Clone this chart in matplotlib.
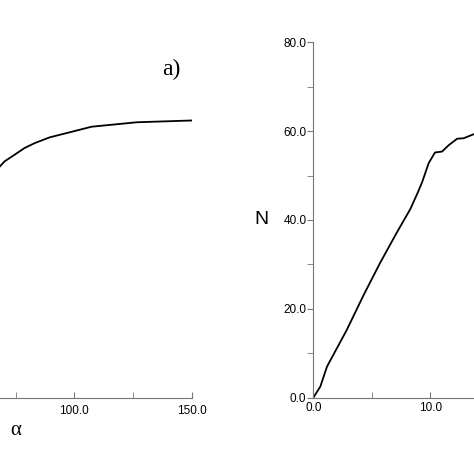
import matplotlib
matplotlib.use("Agg")
import matplotlib.pyplot as plt

alpha_x = [68.2, 70.3, 74.6, 78.8, 83.1, 89.5, 107.4, 126.6, 150.0]
alpha_y = [52.0, 53.2, 54.7, 56.2, 57.3, 58.6, 61.0, 62.0, 62.4]
t_x = [0.0, 0.6, 1.17, 2.85, 4.3, 5.7, 7.1, 8.3, 8.9, 9.3, 9.86, 10.4, 11.0, 11.6, 12.3, 12.85, 13.7, 14.5]
t_y = [0.0, 2.5, 7.0, 15.2, 23.1, 30.3, 37.0, 42.5, 46.0, 48.5, 52.8, 55.2, 55.4, 56.9, 58.3, 58.4, 59.3, 59.8]
left_xticks = [100.0, 150.0]
right_yticks = [0.0, 20.0, 40.0, 60.0, 80.0]
right_xticks = [0.0, 10.0]

W = H = 474.0
fig = plt.figure(figsize=(4.74, 4.74), dpi=100)
y0 = 1 - 397.7 / H
h = (397.7 - 42.3) / H

tick_font = dict(family="Liberation Sans", size=8.5)

# left panel (mostly cut off)
axL = fig.add_axes([-160.5 / W, y0, (191.7 + 160.5) / W, h])
axL.plot(alpha_x, alpha_y, color="black", lw=1.3)
axL.set_xlim(0, 150)
axL.set_ylim(0, 80)
for s in ["top", "right"]:
    axL.spines[s].set_visible(False)
axL.spines["bottom"].set_color("#777777")
axL.set_xticks(left_xticks)
axL.set_xticks([25, 50, 75, 125], minor=True)
axL.set_xticklabels([f"{v:.1f}" for v in left_xticks], **tick_font)
axL.tick_params(axis="x", which="both", direction="in", length=4, color="#777777", pad=5)
axL.set_yticks([])
axL.text((15 + 160.5) / 2.34, -7.3, "α", family="Liberation Serif", fontsize=15, ha="center", va="center")
axL.text((170 + 160.5) / 2.34, (397.7 - 70) / 4.44, "a)", family="Liberation Serif", fontsize=17, ha="center", va="center")

# right panel (cut off at right)
axR = fig.add_axes([313.3 / W, y0, 234 / W, h])
axR.plot(t_x, t_y, color="black", lw=1.3)
axR.set_xlim(0, 20)
axR.set_ylim(0, 80)
for s in ["top", "right"]:
    axR.spines[s].set_visible(False)
axR.spines["bottom"].set_color("#777777")
axR.spines["left"].set_color("#777777")
axR.set_xticks(right_xticks)
axR.set_xticks([5, 15], minor=True)
axR.set_xticklabels([f"{v:.1f}" for v in right_xticks], **tick_font)
axR.set_yticks(right_yticks)
axR.set_yticks([10, 30, 50, 70], minor=True)
axR.set_yticklabels([f"{v:.1f}" for v in right_yticks], **tick_font)
axR.tick_params(axis="x", which="both", direction="in", length=4, color="#777777", pad=3)
axR.tick_params(axis="y", which="both", direction="out", length=4, color="#777777", pad=1)
axR.text(-4.45, 40, "N", family="Liberation Sans", fontsize=14, ha="center", va="center")

fig.savefig("out.png", dpi=100)
